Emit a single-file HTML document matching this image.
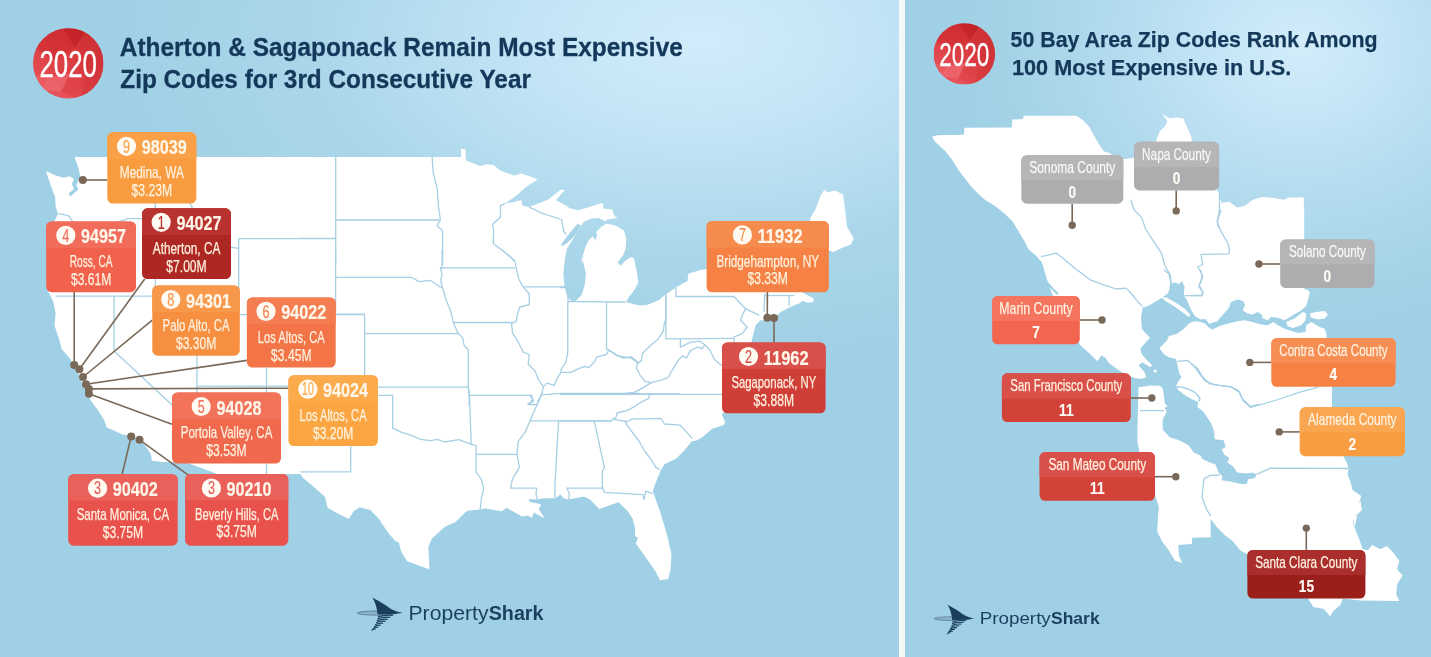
<!DOCTYPE html>
<html lang="en"><head><meta charset="utf-8"><title>Most Expensive Zip Codes 2020</title>
<style>
html,body{margin:0;padding:0;background:#9fd0e5;}
body{width:1431px;height:657px;overflow:hidden;position:relative;}
svg{display:block;position:absolute;left:0;top:0;}
text{font-family:"Liberation Sans", Arial, sans-serif;}
.b{font-weight:bold;}
</style></head><body>
<svg width="1431" height="657" viewBox="0 0 1431 657">
<defs>
<radialGradient id="gl" gradientUnits="userSpaceOnUse" cx="0" cy="0" r="1" gradientTransform="translate(700 40) scale(600 330)">
<stop offset="0" stop-color="#d2ecfb"/><stop offset="0.3" stop-color="#c2e4f5"/><stop offset="0.65" stop-color="#aad6ea"/><stop offset="1" stop-color="#9fd0e5"/>
</radialGradient>
<radialGradient id="gr" gradientUnits="userSpaceOnUse" cx="0" cy="0" r="1" gradientTransform="translate(1300 48) scale(350 290)">
<stop offset="0" stop-color="#d3ecfa"/><stop offset="0.25" stop-color="#c4e5f6"/><stop offset="0.5" stop-color="#b4dcef"/><stop offset="0.78" stop-color="#a6d4e8"/><stop offset="1" stop-color="#9fd0e5"/>
</radialGradient>
<clipPath id="cl"><rect x="0" y="0" width="899" height="657"/></clipPath>
<clipPath id="cr"><rect x="905" y="0" width="526" height="657"/></clipPath>
<clipPath id="b1"><circle cx="68.3" cy="63.3" r="35.2"/></clipPath>
<clipPath id="b2"><circle cx="964.3" cy="53.9" r="30.7"/></clipPath>
<mask id="bm" maskUnits="userSpaceOnUse" x="905" y="0" width="526" height="657">
<rect x="905" y="0" width="526" height="657" fill="#000"/>
<path d="M931.9 136.8 L937.4 135.2 L963.8 134.8 L964.4 127.8 L1011.7 127.4 L1012.3 119.6 L1023.1 119.0 L1023.5 115.7 L1076.3 115.7 L1082.2 119.6 L1089.0 126.4 L1093.9 135.2 L1098.8 144.0 L1103.7 151.3 L1110.6 153.2 L1111.5 155.2 L1123.3 159.3 L1134.0 157.7 L1155.9 141.5 L1159.8 131.3 L1164.7 126.4 L1167.6 121.5 L1161.8 113.3 L1169.6 118.6 L1176.4 117.6 L1183.3 118.6 L1187.2 127.4 L1191.1 136.2 L1192.1 141.5 L1219.1 193.9 L1221.4 202.7 L1229.3 201.7 L1237.1 207.6 L1244.9 205.7 L1252.7 199.8 L1262.5 196.9 L1272.3 197.8 L1284.1 199.8 L1288.0 197.8 L1303.6 197.2 L1304.2 210.0 L1304.2 288.8 L1308.4 290.5 L1326.5 300.0 L1326.5 338.0 L1331.9 387.0 L1331.9 407.0 L1340.0 440.0 L1343.7 456.7 L1346.7 462.6 L1348.6 468.5 L1347.6 474.4 L1350.6 482.2 L1352.5 490.0 L1361.3 495.9 L1359.4 501.7 L1362.3 509.6 L1356.5 515.4 L1352.5 521.3 L1354.5 528.0 L1360.6 500.0 L1361.6 510.5 L1356.4 514.7 L1353.2 521.0 L1355.3 529.4 L1359.5 539.8 L1362.7 549.3 L1367.9 550.3 L1372.1 545.1 L1380.5 549.3 L1386.8 546.1 L1393.1 552.4 L1399.3 560.8 L1397.2 569.2 L1402.5 575.5 L1397.2 583.9 L1396.2 594.3 L1399.3 601.0 L1360.6 600.6 L1342.7 598.5 L1340.6 604.8 L1333.3 611.1 L1330.2 616.4 L1323.9 609.0 L1313.4 606.9 L1308.1 598.5 L1247.4 554.5 L1240.0 550.3 L1233.7 541.9 L1225.3 535.6 L1217.0 527.3 L1210.7 518.9 L1210.7 537.3 L1192.2 537.7 L1191.8 544.0 L1178.2 545.1 L1179.2 556.6 L1182.4 562.9 L1175.0 560.8 L1168.7 550.3 L1162.4 541.9 L1157.2 531.4 L1158.3 512.6 L1160.4 500.0 L1160.5 523.9 L1159.9 512.2 L1157.0 500.8 L1139.4 452.1 L1137.4 441.7 L1137.4 430.0 L1138.5 386.7 L1144.4 379.9 L1142.4 378.9 L1134.6 377.9 L1124.8 374.0 L1117.0 369.1 L1109.1 363.3 L1105.2 357.4 L1101.3 355.4 L1097.4 361.3 L1089.6 353.5 L1081.7 346.6 L1079.8 344.3 L1052.7 295.5 L1050.8 290.0 L1047.8 282.2 L1044.9 272.4 L1042.0 262.6 L1036.1 255.8 L1028.3 248.9 L1024.4 241.1 L1018.5 231.3 L1012.6 221.5 L1004.8 213.7 L995.0 205.9 L985.2 200.0 L978.5 193.9 L970.7 186.1 L964.8 178.3 L958.9 170.4 L952.1 159.7 L945.2 150.9 L935.4 142.1Z" fill="#fff"/>
<path d="M1136.5 381.3 L1146.3 377.0 L1144.4 372.1 L1138.5 365.2 L1142.4 362.3 L1150.2 367.2 L1152.2 365.2 L1146.3 359.4 L1141.4 353.5 L1140.4 348.6 L1146.3 341.7 L1150.2 337.8 L1144.4 332.0 L1141.9 328.7 L1141.0 317.0 L1142.7 307.7 L1148.6 305.7 L1160.3 298.8 L1167.9 293.5 L1171.2 283.4 L1175.4 282.6 L1178.8 284.3 L1182.1 280.9 L1184.6 286.8 L1183.8 295.2 L1187.1 300.2 L1190.5 308.6 L1194.7 316.1 L1200.6 319.5 L1205.6 319.0 L1209.0 323.7 L1217.3 321.2 L1224.0 313.6 L1229.1 307.7 L1230.8 301.9 L1237.5 299.4 L1243.3 301.0 L1245.0 305.2 L1242.5 310.3 L1247.5 313.6 L1252.6 314.4 L1257.6 311.9 L1261.8 314.4 L1262.6 318.6 L1267.7 320.3 L1271.0 317.0 L1277.7 317.8 L1284.4 320.3 L1292.8 315.3 L1301.2 310.3 L1306.2 306.1 L1309.6 293.5 L1308.7 288.4 L1345.0 285.0 L1345.0 334.0 L1326.4 333.7 L1324.7 328.7 L1319.6 327.0 L1311.3 322.0 L1306.2 325.3 L1305.4 332.1 L1297.8 332.9 L1284.4 328.7 L1277.7 325.3 L1273.5 322.0 L1267.7 325.3 L1260.9 324.5 L1252.6 322.0 L1244.2 320.3 L1237.5 321.2 L1227.4 323.7 L1219.0 326.2 L1212.3 329.5 L1208.1 327.0 L1205.6 323.7 L1200.6 322.0 L1193.9 321.2 L1188.8 323.7 L1183.8 328.7 L1177.1 333.7 L1168.7 336.2 L1167.0 340.4 L1162.0 345.5 L1159.5 348.0 L1163.7 353.9 L1168.7 357.2 L1176.2 358.9 L1177.9 367.3 L1179.6 374.0 L1181.5 377.0 L1177.6 382.8 L1175.7 386.7 L1183.5 394.2 L1192.3 399.5 L1198.2 402.0 L1197.6 407.3 L1203.1 411.2 L1207.4 417.7 L1211.3 423.5 L1214.0 431.4 L1214.8 439.2 L1223.6 440.2 L1225.6 447.0 L1221.8 449.4 L1224.4 454.8 L1229.3 457.7 L1227.3 462.6 L1233.2 466.5 L1237.1 472.4 L1246.9 473.4 L1252.7 472.4 L1256.7 474.4 L1254.7 478.3 L1247.9 479.2 L1246.9 484.1 L1241.0 484.1 L1229.3 481.2 L1221.4 480.2 L1222.4 476.3 L1218.5 472.4 L1215.6 464.6 L1209.7 462.6 L1201.9 458.7 L1200.9 455.8 L1194.0 452.8 L1188.2 445.0 L1178.4 440.1 L1169.6 437.2 L1162.7 429.4 L1162.7 419.6 L1166.7 411.7 L1164.7 407.8 L1167.8 406.3 L1164.9 403.4 L1163.9 396.5 L1162.9 388.7 L1160.0 385.8 L1150.2 385.4 L1142.4 386.7 L1134.6 387.7Z" fill="#000"/>

<path d="M1286.1 322.0 L1294.5 318.6 L1302.9 311.9 L1306.2 313.6 L1305.4 320.3 L1301.2 325.3 L1292.8 327.9 L1287.8 326.2Z" fill="#fff"/>
<path d="M1309.6 313.6 L1316.3 311.9 L1324.7 311.1 L1328.0 314.4 L1324.7 318.6 L1318.0 319.5 L1311.3 317.8Z" fill="#fff"/>
<path d="M1161.2 296.8 L1167.0 297.7 L1177.1 303.5 L1185.5 309.4 L1190.5 315.3 L1188.8 317.0 L1182.1 311.9 L1173.7 306.1 L1165.3 301.0Z" fill="#fff"/>
<path d="M1178.0 388.3 L1187.4 389.3 L1194.8 393.0 L1197.6 398.5 L1195.2 399.5 L1190.3 396.5 L1183.5 393.0 L1178.0 390.3Z" fill="#fff"/>
<circle cx="1155.1" cy="371.1" r="1.6" fill="#fff"/>
<path d="M1042.4 276.7 L1046.9 282.2 L1052.7 289.0 L1058.0 294.3" fill="none" stroke="#000" stroke-width="2"/>
<path d="M1175.7 386.7 L1181.5 387.1 L1187.4 388.7 L1195.2 392.6 L1200.1 398.5 L1198.8 401.4" fill="none" stroke="#000" stroke-width="1.4" stroke-linejoin="round"/>
</mask></defs>
<rect x="0" y="0" width="899" height="657" fill="#9fd0e5"/>
<rect x="0" y="0" width="899" height="657" fill="url(#gl)"/>
<rect x="905" y="0" width="526" height="657" fill="#9fd0e5"/>
<rect x="905" y="0" width="526" height="657" fill="url(#gr)"/>
<rect x="899" y="0" width="6" height="657" fill="#f3f8f7"/>
<g clip-path="url(#cl)">
<path d="M74.4 157.0 L461.0 157.0 L461.0 149.0 L465.3 149.0 L466.0 160.4 L479.9 165.9 L486.2 164.2 L493.7 164.9 L500.0 170.4 L513.8 175.5 L521.4 173.5 L537.7 179.2 L526.4 186.8 L516.4 195.6 L505.0 203.6 L513.8 201.9 L521.4 200.1 L522.6 205.7 L528.9 206.9 L540.0 202.8 L548.4 199.4 L556.8 192.7 L561.0 189.4 L564.8 189.9 L560.1 195.2 L555.9 200.3 L563.5 203.9 L570.2 208.6 L578.6 210.3 L587.0 207.8 L597.0 204.4 L602.9 202.8 L603.4 208.6 L612.1 209.5 L614.6 216.2 L618.0 217.9 L607.1 219.5 L605.4 221.2 L598.7 217.9 L590.3 218.7 L583.6 222.1 L581.1 225.7 L576.1 233.8 L571.0 242.2 L566.8 248.9 L565.2 257.3 L564.3 264.0 L564.2 264.3 L563.3 273.8 L564.4 285.6 L566.8 295.1 L570.4 300.6 L575.6 301.1 L581.6 295.1 L584.6 285.6 L585.8 273.8 L583.9 264.3 L581.1 257.1 L581.9 264.0 L582.8 255.6 L585.3 247.2 L588.6 240.5 L592.8 236.3 L595.3 240.5 L597.0 235.5 L596.2 232.1 L598.7 229.6 L602.1 226.2 L605.4 224.2 L607.1 223.7 L615.5 225.4 L623.9 230.4 L626.4 238.8 L625.5 248.9 L623.0 255.6 L618.8 260.6 L618.0 263.1 L620.5 265.7 L625.5 260.6 L630.6 257.3 L633.9 258.1 L636.4 270.0 L636.0 266.1 L638.4 282.8 L633.7 291.1 L628.9 297.0 L626.0 302.0 L633.0 304.0 L640.0 305.5 L647.0 305.0 L653.0 302.5 L659.0 300.0 L665.6 294.5 L676.6 287.0 L687.5 281.1 L688.4 273.8 L700.3 270.1 L706.7 269.2 L720.0 262.0 L745.0 240.0 L790.0 238.0 L800.0 225.0 L809.8 220.9 L810.8 217.0 L815.7 209.1 L820.6 195.4 L824.5 189.6 L827.4 192.5 L835.2 190.5 L843.1 194.5 L845.0 209.1 L847.0 226.7 L853.8 238.5 L850.9 244.4 L841.1 248.3 L833.3 252.2 L829.0 250.2 L822.0 262.0 L812.0 275.0 L806.0 285.0 L802.6 292.6 L807.6 295.2 L813.5 298.5 L813.5 301.9 L807.6 302.7 L802.6 301.0 L799.2 303.5 L792.5 306.1 L787.5 308.6 L780.8 311.9 L777.4 315.3 L774.0 318.6 L767.3 320.3 L760.6 320.3 L755.6 325.3 L753.9 332.1 L752.2 338.8 L751.4 342.5 L748.0 360.0 L742.0 380.0 L738.0 400.0 L721.6 414.5 L725.1 421.6 L723.9 425.1 L712.1 428.7 L702.6 437.0 L696.6 440.6 L691.9 441.3 L683.6 451.3 L676.4 458.4 L664.5 464.3 L661.0 469.8 L655.0 484.5 L652.7 491.7 L654.0 494.6 L660.0 511.3 L667.1 535.0 L671.4 554.0 L670.7 568.3 L668.3 579.0 L660.0 580.2 L655.2 570.7 L643.3 554.0 L635.7 543.4 L638.1 537.4 L635.0 536.2 L635.0 527.9 L632.6 518.4 L626.7 510.1 L618.4 502.3 L599.4 508.9 L589.9 499.4 L583.9 496.5 L568.5 499.4 L563.7 498.2 L560.2 494.6 L555.4 498.2 L543.6 498.2 L536.4 499.4 L529.3 498.9 L529.3 501.8 L541.2 504.2 L538.8 508.9 L544.7 518.4 L534.0 512.5 L531.7 517.9 L528.1 515.6 L522.2 516.5 L515.0 512.5 L506.7 507.7 L502.0 511.3 L485.3 508.4 L479.4 509.4 L467.5 510.8 L465.1 512.5 L455.6 522.0 L444.9 526.7 L431.9 538.6 L428.3 546.9 L429.5 569.5 L428.5 569.0 L419.0 565.5 L407.1 561.2 L401.2 551.7 L398.8 542.6 L395.2 541.0 L388.1 532.7 L378.6 518.4 L370.3 510.1 L359.6 507.2 L353.6 511.3 L348.9 519.1 L335.8 512.5 L327.5 507.7 L325.1 497.0 L314.4 487.5 L302.6 477.5 L300.2 474.0 L278.3 474.2 L278.3 481.7 L238.4 481.7 L186.3 462.5 L162.6 461.9 L151.9 460.7 L150.7 453.6 L145.9 446.4 L138.8 439.3 L131.7 435.7 L122.2 434.5 L115.0 431.0 L106.7 427.4 L104.3 420.3 L98.4 410.8 L91.3 401.3 L87.7 394.2 L81.8 382.3 L78.2 372.8 L73.5 365.6 L69.9 358.5 L61.6 349.0 L59.2 339.5 L54.5 325.4 L55.6 313.6 L53.3 301.7 L48.5 292.2 L50.9 237.5 L54.5 220.9 L58.0 213.8 L55.6 206.6 L55.2 197.0 L51.8 188.6 L48.4 178.6 L45.9 171.0 L55.2 175.2 L63.5 177.7 L69.4 176.2 L73.9 178.9 L71.9 183.9 L73.9 189.0 L68.9 193.3 L69.9 196.7 L78.3 189.6 L76.3 184.9 L80.3 177.2 L78.6 168.5 L74.4 156.8Z" fill="#fff"/>
<path d="M577.5 223.8 L581.1 225.6 L574.7 235.7 L567.4 243.0 L561.9 246.3 L561.0 244.5 L567.4 235.7 L572.9 229.3Z" fill="#a6d3e7"/>
<g fill="none" stroke="#a6cfe3" stroke-width="1.3" stroke-linejoin="round">
<path d="M335.7 156.9 L335.7 265.0"/>
<path d="M335.7 220.0 L439.6 220.0"/>
<path d="M432.1 156.9 L433.3 173.0 L437.1 188.1 L438.4 205.7 L440.4 220.0 L437.1 225.8 L442.6 230.8 L442.6 265.0"/>
<path d="M300.0 238.4 L335.7 238.4"/>
<path d="M505.0 203.6 L500.5 205.7 L500.5 217.0 L492.5 224.5 L493.7 230.8 L493.2 243.4 L506.3 253.5 L515.1 261.0"/>
<path d="M528.9 206.9 L541.5 213.2 L561.6 219.5 L563.6 230.8 L566.2 234.6"/>
<path d="M335.6 250.0 L335.6 314.2"/>
<path d="M335.6 277.3 L411.7 277.3 L418.8 281.6 L430.7 280.4 L437.8 285.6 L442.6 288.0"/>
<path d="M440.2 267.8 L515.0 267.8"/>
<path d="M442.1 250.0 L442.1 267.8 L440.2 267.8 L442.1 273.8 L440.7 280.9 L442.6 288.0 L446.1 299.9 L450.9 311.8 L453.3 322.5 L458.0 333.2 L462.8 337.9 L463.9 345.0 L468.2 349.8 L468.2 387.1 L469.2 395.4 L469.2 405.9"/>
<path d="M364.6 333.6 L458.0 333.6"/>
<path d="M335.6 314.2 L364.6 314.2 L364.6 387.1"/>
<path d="M453.3 322.5 L511.5 322.5"/>
<path d="M338.0 387.1 L468.2 387.1"/>
<path d="M469.2 395.4 L531.7 395.4 L532.8 399.7 L528.1 404.4"/>
<path d="M502.0 250.0 L509.1 255.9 L515.0 261.9 L516.2 267.8 L518.6 278.5 L522.2 285.6 L529.3 294.0 L529.3 304.6 L519.8 307.0 L517.4 314.2 L516.2 321.3 L511.5 323.7 L512.6 333.2 L518.6 342.7 L523.3 352.2 L529.3 354.5 L528.1 364.0 L535.2 371.2 L538.8 380.7 L543.5 386.6 L541.2 394.9 L537.6 402.1"/>
<path d="M523.3 286.8 L564.9 286.8"/>
<path d="M567.8 301.1 L567.8 352.2 L566.1 361.7 L561.4 368.8 L560.9 372.4"/>
<path d="M567.8 301.6 L625.5 302.0"/>
<path d="M606.5 301.8 L606.5 349.8"/>
<path d="M543.5 386.6 L547.1 383.1 L554.2 385.4 L556.6 379.5 L560.9 372.4 L570.9 372.4 L578.0 368.8 L585.1 366.4 L588.7 367.6 L594.6 361.7 L597.0 356.9 L606.5 354.5 L608.9 349.8 L616.0 354.5 L623.1 358.1 L631.4 356.9 L637.4 361.7"/>
<path d="M541.2 394.9 L561.4 393.3 L640.0 393.3"/>
<path d="M378.0 395.4 L392.7 395.4 L392.7 428.2 L401.8 432.3 L411.3 435.3 L420.8 439.4 L430.3 440.6 L437.4 439.4 L444.5 442.0 L458.8 439.6 L470.7 444.1 L476.1 445.6 L476.1 472.2 L481.4 479.3 L483.7 488.8 L481.4 498.3 L480.2 509.0"/>
<path d="M468.3 387.1 L469.5 395.4 L471.2 444.1"/>
<path d="M476.1 454.3 L517.0 454.3"/>
<path d="M542.0 393.8 L537.2 404.5 L532.5 415.1 L530.1 421.1 L525.3 431.8 L518.2 441.3 L517.0 454.3 L519.4 467.4 L512.3 479.3 L510.6 488.1 L536.7 488.1 L536.0 493.6 L537.2 499.5"/>
<path d="M530.1 395.4 L533.6 400.9 L527.7 404.5 L537.2 404.5"/>
<path d="M530.1 420.8 L612.0 420.8"/>
<path d="M561.0 393.8 L680.0 393.8"/>
<path d="M558.6 420.8 L555.0 484.0 L555.0 498.3"/>
<path d="M594.2 420.8 L604.4 467.4 L602.1 472.2 L602.5 487.6 L604.4 492.4 L642.9 494.7 L644.1 499.5 L645.8 491.2 L652.4 493.6"/>
<path d="M602.5 488.1 L566.9 488.1 L569.3 493.6 L568.8 499.5"/>
<path d="M560.0 394.3 L726.3 394.3"/>
<path d="M675.9 287.6 L675.9 296.5 L733.8 296.5 L740.5 303.5 L745.5 308.6 L742.2 315.3 L740.5 320.3 L747.2 327.0 L742.2 333.7 L733.8 337.1 L733.8 338.8"/>
<path d="M665.9 293.5 L665.9 338.8 L733.8 338.4"/>
<path d="M745.5 308.6 L759.0 315.3"/>
<path d="M764.8 293.5 L764.0 311.9"/>
<path d="M789.1 295.2 L789.1 306.1"/>
<path d="M764.8 295.5 L794.2 295.5"/>
<path d="M733.8 338.8 L734.6 348.8 L737.1 357.2"/>
<path d="M560.0 287.5 L567.1 287.5 L568.3 301.8"/>
<path d="M155.3 157.0 L155.3 210.3 L157.0 218.7 L162.8 228.7 L159.3 238.6 L153.1 250.3 L155.4 261.9 L155.4 296.1"/>
<path d="M58.5 213.7 L68.2 215.7 L75.2 224.7 L83.5 227.5 L93.2 224.7 L107.2 224.7 L123.9 220.1 L128.0 218.7 L157.0 218.7"/>
<path d="M55.7 296.1 L238.7 296.1"/>
<path d="M114.1 296.1 L114.1 350.9 L188.8 420.6 L189.7 425.7 L192.7 432.4 L194.8 433.3 L190.6 439.1 L187.9 447.5 L190.6 454.1 L187.6 458.8"/>
<path d="M196.9 296.1 L196.9 401.8 L187.2 401.8 L188.8 420.6"/>
<path d="M196.9 386.2 L363.9 386.2"/>
<path d="M169.1 157.0 L169.1 178.0 L174.0 190.4 L186.5 198.6 L192.0 206.7 L193.4 220.7 L190.6 227.7 L199.0 226.7 L204.6 236.6 L211.5 246.4 L221.3 248.4 L232.4 247.4 L238.7 248.4"/>
<path d="M238.7 238.6 L238.7 314.6 L266.5 314.6"/>
<path d="M238.7 238.6 L336.0 238.6"/>
<path d="M266.5 314.6 L266.5 481.5"/>
<path d="M266.5 314.6 L363.9 314.6"/>
<path d="M350.7 386.5 L350.7 471.8 L300.4 471.8"/>
<path d="M665.8 296.1 L665.8 321.7 L664.6 321.7 L663.3 331.4 L658.5 338.7 L649.9 346.0 L642.6 353.3 L641.4 360.6 L637.8 363.1 L631.7 358.2 L624.4 357.0 L617.1 355.8 L609.7 350.9 L606.1 348.5"/>
<path d="M637.8 363.1 L636.5 368.0 L640.2 375.3 L645.1 381.4 L651.2 382.6 L660.9 380.1 L668.2 377.7 L670.6 372.8 L678.0 360.6 L682.8 355.8 L686.5 358.2 L690.1 350.9 L697.4 347.2 L702.3 348.5 L704.8 344.8"/>
<path d="M680.4 338.7 L680.4 347.2 L690.1 342.4 L699.9 341.2 L704.8 344.8 L709.6 349.7 L714.5 359.4 L721.8 365.5"/>
<path d="M651.2 382.6 L643.8 387.4 L634.1 392.3 L625.6 393.5"/>
<path d="M649.9 394.0 L648.7 398.4 L639.0 403.3 L634.1 406.9 L626.8 410.6 L617.1 413.0 L615.8 417.9 L612.2 419.1 L626.8 421.5 L625.6 422.8 L631.7 419.1 L660.9 418.4 L664.6 424.0 L680.4 425.2 L692.6 438.6"/>
<path d="M559.8 420.8 L612.2 420.8"/>
<path d="M625.6 422.8 L631.7 431.3 L639.0 441.0 L643.8 449.8"/>
<path d="M643.8 449.8 L650.0 458.0 L656.0 467.4 L660.0 469.7"/>
</g></g>
<g clip-path="url(#cr)">
<rect x="905" y="0" width="526" height="657" fill="#fff" mask="url(#bm)"/>
<g fill="none" stroke="#a6cfe3" stroke-width="1.3" stroke-linejoin="round">
<path d="M1131.0 200.0 L1133.9 209.8 L1141.8 217.6 L1145.7 229.4 L1153.5 241.1 L1161.3 252.8 L1165.2 266.5 L1170.1 274.4 L1171.1 282.2 L1170.1 288.1"/>
<path d="M1041.0 256.7 L1056.6 253.2 L1063.5 258.7 L1075.2 268.5 L1090.9 280.2 L1104.6 285.1 L1116.3 289.0 L1126.1 288.1 L1130.0 292.0 L1137.8 301.7 L1142.7 306.6"/>
<path d="M1219.5 193.9 L1219.5 209.6 L1217.5 221.3 L1218.5 228.0"/>
<path d="M1221.2 210.0 L1217.0 221.7 L1221.2 231.8 L1227.9 243.5 L1229.6 250.3 L1228.7 253.9 L1201.1 254.4 L1201.9 260.3 L1202.7 264.5 L1197.7 267.0 L1201.1 272.1 L1202.7 277.1 L1199.4 285.5 L1202.7 292.2 L1201.9 295.5 L1191.0 295.5"/>
<path d="M1163.7 270.0 L1168.7 273.4 L1170.4 280.1 L1171.2 283.4"/>
<path d="M1184.6 295.7 L1202.2 295.7 L1203.1 291.8 L1198.9 286.8 L1202.2 276.7 L1200.6 270.0"/>
<path d="M1177.6 361.3 L1187.4 360.3 L1193.3 365.2 L1199.1 373.0 L1205.0 380.9 L1214.8 384.8 L1230.5 386.7 L1238.3 390.7 L1242.2 398.5 L1250.0 406.3 L1260.0 404.4"/>
<path d="M1191.0 363.6 L1197.7 368.6 L1202.7 377.0 L1209.4 383.7 L1219.5 385.4 L1231.3 387.1 L1239.6 392.1 L1243.0 400.5 L1250.5 407.5 L1274.9 400.5 L1300.0 392.1 L1318.5 387.1"/>
<path d="M1140.0 410.6 L1164.0 410.6"/>
<path d="M1219.6 475.0 L1209.8 475.4 L1203.9 478.9 L1202.0 496.5 L1205.9 508.3 L1210.8 516.1"/>
<path d="M1256.7 474.4 L1270.4 468.1 L1348.6 468.5"/>
</g></g>
<g stroke="#7a6958" stroke-width="1.6" fill="#7a6958">
<line x1="82.8" y1="180" x2="107.3" y2="180"/><circle cx="82.8" cy="180" r="4" stroke="none"/>
<line x1="74.2" y1="365" x2="74.2" y2="292"/><circle cx="74.2" cy="365" r="4" stroke="none"/>
<line x1="79.4" y1="369.2" x2="144.7" y2="279"/><circle cx="79.4" cy="369.2" r="4" stroke="none"/>
<line x1="83" y1="377" x2="152.3" y2="320.2"/><circle cx="83" cy="377" r="4" stroke="none"/>
<line x1="86" y1="384.2" x2="246.9" y2="360.4"/><circle cx="86" cy="384.2" r="4" stroke="none"/>
<line x1="88.9" y1="388.9" x2="288.5" y2="388.2"/><circle cx="88.9" cy="388.9" r="4" stroke="none"/>
<line x1="88.9" y1="393.7" x2="172" y2="424.3"/><circle cx="88.9" cy="393.7" r="4" stroke="none"/>
<line x1="131.2" y1="436.4" x2="122.2" y2="474"/><circle cx="131.2" cy="436.4" r="4" stroke="none"/>
<line x1="139.5" y1="439.8" x2="188.7" y2="475.4"/><circle cx="139.5" cy="439.8" r="4" stroke="none"/>
<line x1="767.3" y1="317.8" x2="767.4" y2="292"/><circle cx="767.3" cy="317.8" r="4" stroke="none"/>
<line x1="774" y1="318" x2="774" y2="342.5"/><circle cx="774" cy="318" r="4" stroke="none"/>
<line x1="1072.2" y1="225.3" x2="1072.2" y2="203.7"/><circle cx="1072.2" cy="225.3" r="3.7" stroke="none"/>
<line x1="1176.2" y1="210.9" x2="1176.2" y2="190.4"/><circle cx="1176.2" cy="210.9" r="3.7" stroke="none"/>
<line x1="1258.9" y1="264" x2="1280.2" y2="264"/><circle cx="1258.9" cy="264" r="3.7" stroke="none"/>
<line x1="1102" y1="320" x2="1079.8" y2="320"/><circle cx="1102" cy="320" r="3.7" stroke="none"/>
<line x1="1151.8" y1="398" x2="1130.8" y2="398"/><circle cx="1151.8" cy="398" r="3.7" stroke="none"/>
<line x1="1175.8" y1="476.7" x2="1155" y2="476.7"/><circle cx="1175.8" cy="476.7" r="3.7" stroke="none"/>
<line x1="1249.8" y1="362.4" x2="1271.3" y2="362.4"/><circle cx="1249.8" cy="362.4" r="3.7" stroke="none"/>
<line x1="1279.2" y1="431.9" x2="1299.7" y2="431.9"/><circle cx="1279.2" cy="431.9" r="3.7" stroke="none"/>
<line x1="1306.3" y1="528.1" x2="1306.3" y2="549.9"/><circle cx="1306.3" cy="528.1" r="3.7" stroke="none"/>
</g>
<g>
<rect x="107.3" y="132.3" width="89.0" height="71.2" rx="5.5" ry="5.5" fill="#f99c3f"/><path d="M107.3 158.9V137.8a5.5 5.5 0 0 1 5.5 -5.5H190.8a5.5 5.5 0 0 1 5.5 5.5V158.9Z" fill="#faa046"/>
<circle cx="126.5" cy="146.3" r="9.6" fill="#fffaf2"/>
<text transform="translate(126.5 152.5) scale(0.72 1)" font-size="17.5" text-anchor="middle" fill="#faa046" stroke="#faa046" stroke-width="0.2">9</text>
<text class="b" x="141.7" y="154.3" font-size="20.2" textLength="45.0" lengthAdjust="spacingAndGlyphs" fill="#fff6ea" stroke="#fff6ea" stroke-width="0.2">98039</text>
<text x="119.8" y="177.9" font-size="16.8" textLength="64.0" lengthAdjust="spacingAndGlyphs" fill="#fff2e0" stroke="#fff2e0" stroke-width="0.25">Medina, WA</text>
<text x="131.6" y="195.7" font-size="16.8" textLength="40.4" lengthAdjust="spacingAndGlyphs" fill="#fff2e0" stroke="#fff2e0" stroke-width="0.25">$3.23M</text>
</g>
<g>
<rect x="142.0" y="208.3" width="89.0" height="70.8" rx="5.5" ry="5.5" fill="#ad2823"/><path d="M142.0 234.9V213.8a5.5 5.5 0 0 1 5.5 -5.5H225.5a5.5 5.5 0 0 1 5.5 5.5V234.9Z" fill="#b8322f"/>
<circle cx="161.2" cy="222.3" r="9.6" fill="#fffaf2"/>
<text transform="translate(161.2 228.5) scale(0.72 1)" font-size="17.5" text-anchor="middle" fill="#b8322f" stroke="#b8322f" stroke-width="0.2">1</text>
<text class="b" x="176.4" y="230.3" font-size="20.2" textLength="45.0" lengthAdjust="spacingAndGlyphs" fill="#fff6ea" stroke="#fff6ea" stroke-width="0.2">94027</text>
<text x="152.8" y="253.9" font-size="16.8" textLength="67.5" lengthAdjust="spacingAndGlyphs" fill="#fff2e0" stroke="#fff2e0" stroke-width="0.25">Atherton, CA</text>
<text x="166.3" y="271.7" font-size="16.8" textLength="40.4" lengthAdjust="spacingAndGlyphs" fill="#fff2e0" stroke="#fff2e0" stroke-width="0.25">$7.00M</text>
</g>
<g>
<rect x="46.2" y="221.4" width="89.8" height="70.8" rx="5.5" ry="5.5" fill="#f2614c"/><path d="M46.2 248.0V226.9a5.5 5.5 0 0 1 5.5 -5.5H130.5a5.5 5.5 0 0 1 5.5 5.5V248.0Z" fill="#f26c5b"/>
<circle cx="65.8" cy="235.4" r="9.6" fill="#fffaf2"/>
<text transform="translate(65.8 241.6) scale(0.72 1)" font-size="17.5" text-anchor="middle" fill="#f26c5b" stroke="#f26c5b" stroke-width="0.2">4</text>
<text class="b" x="81.0" y="243.4" font-size="20.2" textLength="45.0" lengthAdjust="spacingAndGlyphs" fill="#fff6ea" stroke="#fff6ea" stroke-width="0.2">94957</text>
<text x="69.7" y="267.0" font-size="16.8" textLength="42.8" lengthAdjust="spacingAndGlyphs" fill="#fff2e0" stroke="#fff2e0" stroke-width="0.25">Ross, CA</text>
<text x="70.9" y="284.8" font-size="16.8" textLength="40.4" lengthAdjust="spacingAndGlyphs" fill="#fff2e0" stroke="#fff2e0" stroke-width="0.25">$3.61M</text>
</g>
<g>
<rect x="152.3" y="285.5" width="87.5" height="70.2" rx="5.5" ry="5.5" fill="#f78f40"/><path d="M152.3 312.1V291.0a5.5 5.5 0 0 1 5.5 -5.5H234.3a5.5 5.5 0 0 1 5.5 5.5V312.1Z" fill="#f8984b"/>
<circle cx="170.8" cy="299.5" r="9.6" fill="#fffaf2"/>
<text transform="translate(170.8 305.7) scale(0.72 1)" font-size="17.5" text-anchor="middle" fill="#f8984b" stroke="#f8984b" stroke-width="0.2">8</text>
<text class="b" x="185.9" y="307.5" font-size="20.2" textLength="45.0" lengthAdjust="spacingAndGlyphs" fill="#fff6ea" stroke="#fff6ea" stroke-width="0.2">94301</text>
<text x="162.6" y="331.1" font-size="16.8" textLength="67.0" lengthAdjust="spacingAndGlyphs" fill="#fff2e0" stroke="#fff2e0" stroke-width="0.25">Palo Alto, CA</text>
<text x="175.9" y="348.9" font-size="16.8" textLength="40.4" lengthAdjust="spacingAndGlyphs" fill="#fff2e0" stroke="#fff2e0" stroke-width="0.25">$3.30M</text>
</g>
<g>
<rect x="246.9" y="297.4" width="88.8" height="70.1" rx="5.5" ry="5.5" fill="#f37446"/><path d="M246.9 324.0V302.9a5.5 5.5 0 0 1 5.5 -5.5H330.2a5.5 5.5 0 0 1 5.5 5.5V324.0Z" fill="#f47e52"/>
<circle cx="266.0" cy="311.4" r="9.6" fill="#fffaf2"/>
<text transform="translate(266.0 317.6) scale(0.72 1)" font-size="17.5" text-anchor="middle" fill="#f47e52" stroke="#f47e52" stroke-width="0.2">6</text>
<text class="b" x="281.2" y="319.4" font-size="20.2" textLength="45.0" lengthAdjust="spacingAndGlyphs" fill="#fff6ea" stroke="#fff6ea" stroke-width="0.2">94022</text>
<text x="257.8" y="343.0" font-size="16.8" textLength="67.0" lengthAdjust="spacingAndGlyphs" fill="#fff2e0" stroke="#fff2e0" stroke-width="0.25">Los Altos, CA</text>
<text x="271.1" y="360.8" font-size="16.8" textLength="40.4" lengthAdjust="spacingAndGlyphs" fill="#fff2e0" stroke="#fff2e0" stroke-width="0.25">$3.45M</text>
</g>
<g>
<rect x="288.4" y="375.2" width="89.5" height="70.8" rx="5.5" ry="5.5" fill="#fba642"/><path d="M288.4 401.8V380.7a5.5 5.5 0 0 1 5.5 -5.5H372.4a5.5 5.5 0 0 1 5.5 5.5V401.8Z" fill="#fbab4b"/>
<circle cx="307.9" cy="389.2" r="9.6" fill="#fffaf2"/>
<text transform="translate(307.9 395.4) scale(0.6 1)" font-size="17.5" text-anchor="middle" fill="#fbab4b" stroke="#fbab4b" stroke-width="0.2">10</text>
<text class="b" x="323.1" y="397.2" font-size="20.2" textLength="45.0" lengthAdjust="spacingAndGlyphs" fill="#fff6ea" stroke="#fff6ea" stroke-width="0.2">94024</text>
<text x="299.6" y="420.8" font-size="16.8" textLength="67.0" lengthAdjust="spacingAndGlyphs" fill="#fff2e0" stroke="#fff2e0" stroke-width="0.25">Los Altos, CA</text>
<text x="312.9" y="438.6" font-size="16.8" textLength="40.4" lengthAdjust="spacingAndGlyphs" fill="#fff2e0" stroke="#fff2e0" stroke-width="0.25">$3.20M</text>
</g>
<g>
<rect x="172.0" y="392.5" width="109.0" height="71.1" rx="5.5" ry="5.5" fill="#f1694c"/><path d="M172.0 419.1V398.0a5.5 5.5 0 0 1 5.5 -5.5H275.5a5.5 5.5 0 0 1 5.5 5.5V419.1Z" fill="#f2735a"/>
<circle cx="201.2" cy="406.5" r="9.6" fill="#fffaf2"/>
<text transform="translate(201.2 412.7) scale(0.72 1)" font-size="17.5" text-anchor="middle" fill="#f2735a" stroke="#f2735a" stroke-width="0.2">5</text>
<text class="b" x="216.4" y="414.5" font-size="20.2" textLength="45.0" lengthAdjust="spacingAndGlyphs" fill="#fff6ea" stroke="#fff6ea" stroke-width="0.2">94028</text>
<text x="180.8" y="438.1" font-size="16.8" textLength="91.5" lengthAdjust="spacingAndGlyphs" fill="#fff2e0" stroke="#fff2e0" stroke-width="0.25">Portola Valley, CA</text>
<text x="206.3" y="455.9" font-size="16.8" textLength="40.4" lengthAdjust="spacingAndGlyphs" fill="#fff2e0" stroke="#fff2e0" stroke-width="0.25">$3.53M</text>
</g>
<g>
<rect x="68.2" y="474.2" width="109.5" height="71.5" rx="5.5" ry="5.5" fill="#e9524c"/><path d="M68.2 500.8V479.7a5.5 5.5 0 0 1 5.5 -5.5H172.2a5.5 5.5 0 0 1 5.5 5.5V500.8Z" fill="#ea605a"/>
<circle cx="97.6" cy="488.2" r="9.6" fill="#fffaf2"/>
<text transform="translate(97.6 494.4) scale(0.72 1)" font-size="17.5" text-anchor="middle" fill="#ea605a" stroke="#ea605a" stroke-width="0.2">3</text>
<text class="b" x="112.8" y="496.2" font-size="20.2" textLength="45.0" lengthAdjust="spacingAndGlyphs" fill="#fff6ea" stroke="#fff6ea" stroke-width="0.2">90402</text>
<text x="76.7" y="519.8" font-size="16.8" textLength="92.5" lengthAdjust="spacingAndGlyphs" fill="#fff2e0" stroke="#fff2e0" stroke-width="0.25">Santa Monica, CA</text>
<text x="102.7" y="537.6" font-size="16.8" textLength="40.4" lengthAdjust="spacingAndGlyphs" fill="#fff2e0" stroke="#fff2e0" stroke-width="0.25">$3.75M</text>
</g>
<g>
<rect x="185.1" y="474.0" width="103.2" height="71.7" rx="5.5" ry="5.5" fill="#e9524c"/><path d="M185.1 500.6V479.5a5.5 5.5 0 0 1 5.5 -5.5H282.8a5.5 5.5 0 0 1 5.5 5.5V500.6Z" fill="#ea605a"/>
<circle cx="211.4" cy="488.0" r="9.6" fill="#fffaf2"/>
<text transform="translate(211.4 494.2) scale(0.72 1)" font-size="17.5" text-anchor="middle" fill="#ea605a" stroke="#ea605a" stroke-width="0.2">3</text>
<text class="b" x="226.6" y="496.0" font-size="20.2" textLength="45.0" lengthAdjust="spacingAndGlyphs" fill="#fff6ea" stroke="#fff6ea" stroke-width="0.2">90210</text>
<text x="194.9" y="519.6" font-size="16.8" textLength="83.6" lengthAdjust="spacingAndGlyphs" fill="#fff2e0" stroke="#fff2e0" stroke-width="0.25">Beverly Hills, CA</text>
<text x="216.5" y="537.4" font-size="16.8" textLength="40.4" lengthAdjust="spacingAndGlyphs" fill="#fff2e0" stroke="#fff2e0" stroke-width="0.25">$3.75M</text>
</g>
<g>
<rect x="706.6" y="220.9" width="122.2" height="71.4" rx="5.5" ry="5.5" fill="#f58244"/><path d="M706.6 247.5V226.4a5.5 5.5 0 0 1 5.5 -5.5H823.3a5.5 5.5 0 0 1 5.5 5.5V247.5Z" fill="#f68b4e"/>
<circle cx="742.4" cy="234.9" r="9.6" fill="#fffaf2"/>
<text transform="translate(742.4 241.1) scale(0.72 1)" font-size="17.5" text-anchor="middle" fill="#f68b4e" stroke="#f68b4e" stroke-width="0.2">7</text>
<text class="b" x="757.6" y="242.9" font-size="20.2" textLength="45.0" lengthAdjust="spacingAndGlyphs" fill="#fff6ea" stroke="#fff6ea" stroke-width="0.2">11932</text>
<text x="716.4" y="266.5" font-size="16.8" textLength="102.7" lengthAdjust="spacingAndGlyphs" fill="#fff2e0" stroke="#fff2e0" stroke-width="0.25">Bridgehampton, NY</text>
<text x="747.5" y="284.3" font-size="16.8" textLength="40.4" lengthAdjust="spacingAndGlyphs" fill="#fff2e0" stroke="#fff2e0" stroke-width="0.25">$3.33M</text>
</g>
<g>
<rect x="722.0" y="342.5" width="103.6" height="70.8" rx="5.5" ry="5.5" fill="#d03f37"/><path d="M722.0 369.1V348.0a5.5 5.5 0 0 1 5.5 -5.5H820.1a5.5 5.5 0 0 1 5.5 5.5V369.1Z" fill="#d9504a"/>
<circle cx="748.5" cy="356.5" r="9.6" fill="#fffaf2"/>
<text transform="translate(748.5 362.7) scale(0.72 1)" font-size="17.5" text-anchor="middle" fill="#d9504a" stroke="#d9504a" stroke-width="0.2">2</text>
<text class="b" x="763.7" y="364.5" font-size="20.2" textLength="45.0" lengthAdjust="spacingAndGlyphs" fill="#fff6ea" stroke="#fff6ea" stroke-width="0.2">11962</text>
<text x="731.4" y="388.1" font-size="16.8" textLength="84.8" lengthAdjust="spacingAndGlyphs" fill="#fff2e0" stroke="#fff2e0" stroke-width="0.25">Sagaponack, NY</text>
<text x="753.6" y="405.9" font-size="16.8" textLength="40.4" lengthAdjust="spacingAndGlyphs" fill="#fff2e0" stroke="#fff2e0" stroke-width="0.25">$3.88M</text>
</g>
<g>
<rect x="1021.3" y="155.2" width="102.0" height="48.5" rx="5.5" ry="5.5" fill="#adadaf"/><path d="M1021.3 180.4V160.7a5.5 5.5 0 0 1 5.5 -5.5H1117.8a5.5 5.5 0 0 1 5.5 5.5V180.4Z" fill="#b6b6b8"/>
<text x="1029.3" y="173.0" font-size="16.6" textLength="86.0" lengthAdjust="spacingAndGlyphs" fill="#f8f8f8" stroke="#f8f8f8" stroke-width="0.25">Sonoma County</text>
<text class="b" transform="translate(1072.3 197.5) scale(0.82 1)" font-size="16.6" text-anchor="middle" fill="#fffaf4" stroke="#fffaf4" stroke-width="0.2">0</text>
</g>
<g>
<rect x="1134.0" y="141.7" width="85.1" height="48.7" rx="5.5" ry="5.5" fill="#adadaf"/><path d="M1134.0 166.9V147.2a5.5 5.5 0 0 1 5.5 -5.5H1213.6a5.5 5.5 0 0 1 5.5 5.5V166.9Z" fill="#b6b6b8"/>
<text x="1142.1" y="159.5" font-size="16.6" textLength="68.8" lengthAdjust="spacingAndGlyphs" fill="#f8f8f8" stroke="#f8f8f8" stroke-width="0.25">Napa County</text>
<text class="b" transform="translate(1176.5 184.0) scale(0.82 1)" font-size="16.6" text-anchor="middle" fill="#fffaf4" stroke="#fffaf4" stroke-width="0.2">0</text>
</g>
<g>
<rect x="1280.2" y="239.4" width="94.4" height="48.6" rx="5.5" ry="5.5" fill="#adadaf"/><path d="M1280.2 264.6V244.9a5.5 5.5 0 0 1 5.5 -5.5H1369.1a5.5 5.5 0 0 1 5.5 5.5V264.6Z" fill="#b6b6b8"/>
<text x="1289.0" y="257.2" font-size="16.6" textLength="76.8" lengthAdjust="spacingAndGlyphs" fill="#f8f8f8" stroke="#f8f8f8" stroke-width="0.25">Solano County</text>
<text class="b" transform="translate(1327.4 281.7) scale(0.82 1)" font-size="16.6" text-anchor="middle" fill="#fffaf4" stroke="#fffaf4" stroke-width="0.2">0</text>
</g>
<g>
<rect x="992.2" y="295.9" width="87.6" height="48.4" rx="5.5" ry="5.5" fill="#f2654f"/><path d="M992.2 321.1V301.4a5.5 5.5 0 0 1 5.5 -5.5H1074.3a5.5 5.5 0 0 1 5.5 5.5V321.1Z" fill="#f4745f"/>
<text x="999.3" y="313.7" font-size="16.6" textLength="73.4" lengthAdjust="spacingAndGlyphs" fill="#fff2e0" stroke="#fff2e0" stroke-width="0.25">Marin County</text>
<text class="b" transform="translate(1036.0 338.2) scale(0.82 1)" font-size="16.6" text-anchor="middle" fill="#fffaf4" stroke="#fffaf4" stroke-width="0.2">7</text>
</g>
<g>
<rect x="1001.9" y="373.3" width="128.9" height="48.7" rx="5.5" ry="5.5" fill="#d24238"/><path d="M1001.9 398.5V378.8a5.5 5.5 0 0 1 5.5 -5.5H1125.3a5.5 5.5 0 0 1 5.5 5.5V398.5Z" fill="#d9504a"/>
<text x="1010.3" y="391.1" font-size="16.6" textLength="112.0" lengthAdjust="spacingAndGlyphs" fill="#fff2e0" stroke="#fff2e0" stroke-width="0.25">San Francisco County</text>
<text class="b" transform="translate(1066.3 415.6) scale(0.82 1)" font-size="16.6" text-anchor="middle" fill="#fffaf4" stroke="#fffaf4" stroke-width="0.2">11</text>
</g>
<g>
<rect x="1039.6" y="452.1" width="115.4" height="48.7" rx="5.5" ry="5.5" fill="#d24238"/><path d="M1039.6 477.3V457.6a5.5 5.5 0 0 1 5.5 -5.5H1149.5a5.5 5.5 0 0 1 5.5 5.5V477.3Z" fill="#d9504a"/>
<text x="1048.4" y="469.9" font-size="16.6" textLength="97.8" lengthAdjust="spacingAndGlyphs" fill="#fff2e0" stroke="#fff2e0" stroke-width="0.25">San Mateo County</text>
<text class="b" transform="translate(1097.3 494.4) scale(0.82 1)" font-size="16.6" text-anchor="middle" fill="#fffaf4" stroke="#fffaf4" stroke-width="0.2">11</text>
</g>
<g>
<rect x="1271.3" y="338.1" width="124.3" height="48.7" rx="5.5" ry="5.5" fill="#f58243"/><path d="M1271.3 363.3V343.6a5.5 5.5 0 0 1 5.5 -5.5H1390.1a5.5 5.5 0 0 1 5.5 5.5V363.3Z" fill="#f68d52"/>
<text x="1279.3" y="355.9" font-size="16.6" textLength="108.2" lengthAdjust="spacingAndGlyphs" fill="#fff2e0" stroke="#fff2e0" stroke-width="0.25">Contra Costa County</text>
<text class="b" transform="translate(1333.4 380.4) scale(0.82 1)" font-size="16.6" text-anchor="middle" fill="#fffaf4" stroke="#fffaf4" stroke-width="0.2">4</text>
</g>
<g>
<rect x="1299.7" y="407.3" width="105.3" height="48.9" rx="5.5" ry="5.5" fill="#f99d43"/><path d="M1299.7 432.5V412.8a5.5 5.5 0 0 1 5.5 -5.5H1399.5a5.5 5.5 0 0 1 5.5 5.5V432.5Z" fill="#faa651"/>
<text x="1308.1" y="425.1" font-size="16.6" textLength="88.5" lengthAdjust="spacingAndGlyphs" fill="#fff2e0" stroke="#fff2e0" stroke-width="0.25">Alameda County</text>
<text class="b" transform="translate(1352.3 449.6) scale(0.82 1)" font-size="16.6" text-anchor="middle" fill="#fffaf4" stroke="#fffaf4" stroke-width="0.2">2</text>
</g>
<g>
<rect x="1247.4" y="549.9" width="118.0" height="48.6" rx="5.5" ry="5.5" fill="#9a1f1b"/><path d="M1247.4 575.1V555.4a5.5 5.5 0 0 1 5.5 -5.5H1359.9a5.5 5.5 0 0 1 5.5 5.5V575.1Z" fill="#a92e2c"/>
<text x="1255.2" y="567.7" font-size="16.6" textLength="102.3" lengthAdjust="spacingAndGlyphs" fill="#fff2e0" stroke="#fff2e0" stroke-width="0.25">Santa Clara County</text>
<text class="b" transform="translate(1306.4 592.2) scale(0.82 1)" font-size="16.6" text-anchor="middle" fill="#fffaf4" stroke="#fffaf4" stroke-width="0.2">15</text>
</g>
<linearGradient id="gb1" gradientUnits="userSpaceOnUse" x1="85.8" y1="28.3" x2="47.1" y2="98.7"><stop offset="0" stop-color="#c6262a"/><stop offset="0.45" stop-color="#d8383d"/><stop offset="1" stop-color="#ea5a60"/></linearGradient><g clip-path="url(#b1)"><rect x="33.0" y="28.299999999999997" width="70.4" height="70.4" fill="url(#gb1)"/><polygon points="62.9,28.3 87.6,28.3 75.2,47.7" fill="#c01f25" fill-opacity="0.55"/><polygon points="33.0,45.9 62.9,28.3 75.2,47.7 52.4,60.0" fill="#cf2e33" fill-opacity="0.5"/><polygon points="87.6,28.3 103.4,51.2 84.0,60.0 75.2,47.7" fill="#d33a3c" fill-opacity="0.5"/><polygon points="103.4,51.2 103.4,81.1 85.8,75.8 84.0,60.0" fill="#d1343a" fill-opacity="0.5"/><polygon points="33.0,45.9 52.4,60.0 47.1,77.6 33.0,74.1" fill="#e4494f" fill-opacity="0.5"/><polygon points="52.4,60.0 75.2,47.7 84.0,60.0 70.0,74.1" fill="#e04448" fill-opacity="0.45"/><polygon points="47.1,77.6 70.0,74.1 61.2,91.7 41.8,89.9" fill="#f27078" fill-opacity="0.6"/><polygon points="33.0,74.1 47.1,77.6 41.8,89.9 33.0,91.7" fill="#ee6068" fill-opacity="0.6"/><polygon points="70.0,74.1 85.8,75.8 80.5,98.7 61.2,91.7" fill="#dd4046" fill-opacity="0.5"/><polygon points="85.8,75.8 103.4,81.1 103.4,98.7 80.5,98.7" fill="#d23238" fill-opacity="0.5"/><polygon points="61.2,91.7 80.5,98.7 41.8,98.7 41.8,89.9" fill="#e5525a" fill-opacity="0.5"/></g><text x="39.5" y="77.0" font-size="37" textLength="57.4" lengthAdjust="spacingAndGlyphs" fill="#fff" stroke="#fff" stroke-width="0.3">2020</text>
<linearGradient id="gb2" gradientUnits="userSpaceOnUse" x1="979.6" y1="23.2" x2="945.9" y2="84.6"><stop offset="0" stop-color="#c6262a"/><stop offset="0.45" stop-color="#d8383d"/><stop offset="1" stop-color="#ea5a60"/></linearGradient><g clip-path="url(#b2)"><rect x="933.5999999999999" y="23.2" width="61.4" height="61.4" fill="url(#gb2)"/><polygon points="959.7,23.2 981.2,23.2 970.4,40.1" fill="#c01f25" fill-opacity="0.55"/><polygon points="933.6,38.5 959.7,23.2 970.4,40.1 950.5,50.8" fill="#cf2e33" fill-opacity="0.5"/><polygon points="981.2,23.2 995.0,43.2 978.1,50.8 970.4,40.1" fill="#d33a3c" fill-opacity="0.5"/><polygon points="995.0,43.2 995.0,69.2 979.6,64.6 978.1,50.8" fill="#d1343a" fill-opacity="0.5"/><polygon points="933.6,38.5 950.5,50.8 945.9,66.2 933.6,63.1" fill="#e4494f" fill-opacity="0.5"/><polygon points="950.5,50.8 970.4,40.1 978.1,50.8 965.8,63.1" fill="#e04448" fill-opacity="0.45"/><polygon points="945.9,66.2 965.8,63.1 958.2,78.5 941.3,76.9" fill="#f27078" fill-opacity="0.6"/><polygon points="933.6,63.1 945.9,66.2 941.3,76.9 933.6,78.5" fill="#ee6068" fill-opacity="0.6"/><polygon points="965.8,63.1 979.6,64.6 975.0,84.6 958.2,78.5" fill="#dd4046" fill-opacity="0.5"/><polygon points="979.6,64.6 995.0,69.2 995.0,84.6 975.0,84.6" fill="#d23238" fill-opacity="0.5"/><polygon points="958.2,78.5 975.0,84.6 941.3,84.6 941.3,76.9" fill="#e5525a" fill-opacity="0.5"/></g><text x="939.2" y="65.7" font-size="32.3" textLength="50.2" lengthAdjust="spacingAndGlyphs" fill="#fff" stroke="#fff" stroke-width="0.3">2020</text>
<text id="ta" class="b" x="119.8" y="55.8" font-size="25" fill="#14385a" stroke="#14385a" stroke-width="0.3" textLength="563.0" lengthAdjust="spacingAndGlyphs">Atherton &amp; Sagaponack Remain Most Expensive</text>
<text id="tb" class="b" x="120.3" y="87.6" font-size="25" fill="#14385a" stroke="#14385a" stroke-width="0.3" textLength="410.6" lengthAdjust="spacingAndGlyphs">Zip Codes for 3rd Consecutive Year</text>
<text id="tc" class="b" x="1010.6" y="46.8" font-size="21.7" fill="#14385a" stroke="#14385a" stroke-width="0.25" textLength="367.0" lengthAdjust="spacingAndGlyphs">50 Bay Area Zip Codes Rank Among</text>
<text id="td" class="b" x="1012" y="74.8" font-size="21.7" fill="#14385a" stroke="#14385a" stroke-width="0.25" textLength="279.3" lengthAdjust="spacingAndGlyphs">100 Most Expensive in U.S.</text>
<g transform="translate(356.9 597.3) scale(1.0)"><ellipse cx="20" cy="15.8" rx="19.6" ry="2.1" fill="#8db4cb" stroke="#4d7592" stroke-width="0.8"/><path d="M15.6 0.2 C19 2.4 24.5 4.8 29.2 8.3 C33 11.2 37 14.2 45.6 15.5 C40 16.8 30 17.3 20.6 17.2 C20.3 11 18.4 5.2 15.6 0.2Z" fill="#1b3f5f"/><path d="M21 19.400000000000002 Q28.5 17.400000000000002 36 18.0" fill="none" stroke="#1b3f5f" stroke-width="1.25"/><path d="M20.5 21.400000000000002 Q27.0 19.400000000000002 33.5 20.0" fill="none" stroke="#1b3f5f" stroke-width="1.25"/><path d="M20 23.400000000000002 Q25.5 21.400000000000002 31 22.0" fill="none" stroke="#1b3f5f" stroke-width="1.25"/><path d="M19.2 25.400000000000002 Q23.9 23.400000000000002 28.6 24.0" fill="none" stroke="#1b3f5f" stroke-width="1.25"/><path d="M18.2 27.400000000000002 Q22.2 25.400000000000002 26.2 26.0" fill="none" stroke="#1b3f5f" stroke-width="1.25"/><path d="M17.2 29.400000000000002 Q20.5 27.400000000000002 23.8 28.0" fill="none" stroke="#1b3f5f" stroke-width="1.25"/><path d="M16 31.400000000000002 Q18.7 29.400000000000002 21.4 30.0" fill="none" stroke="#1b3f5f" stroke-width="1.25"/><path d="M14.8 33.199999999999996 Q16.8 31.2 18.8 31.799999999999997" fill="none" stroke="#1b3f5f" stroke-width="1.25"/><text x="51.6" y="22.3" font-size="19.6" fill="#1b3f5f" textLength="80" lengthAdjust="spacingAndGlyphs">Property</text><text class="b" x="131.8" y="22.3" font-size="19.6" fill="#1b3f5f" textLength="54.8" lengthAdjust="spacingAndGlyphs">Shark</text></g>
<g transform="translate(933.8 604.6) scale(0.889)"><ellipse cx="20" cy="15.8" rx="19.6" ry="2.1" fill="#8db4cb" stroke="#4d7592" stroke-width="0.8"/><path d="M15.6 0.2 C19 2.4 24.5 4.8 29.2 8.3 C33 11.2 37 14.2 45.6 15.5 C40 16.8 30 17.3 20.6 17.2 C20.3 11 18.4 5.2 15.6 0.2Z" fill="#1b3f5f"/><path d="M21 19.400000000000002 Q28.5 17.400000000000002 36 18.0" fill="none" stroke="#1b3f5f" stroke-width="1.25"/><path d="M20.5 21.400000000000002 Q27.0 19.400000000000002 33.5 20.0" fill="none" stroke="#1b3f5f" stroke-width="1.25"/><path d="M20 23.400000000000002 Q25.5 21.400000000000002 31 22.0" fill="none" stroke="#1b3f5f" stroke-width="1.25"/><path d="M19.2 25.400000000000002 Q23.9 23.400000000000002 28.6 24.0" fill="none" stroke="#1b3f5f" stroke-width="1.25"/><path d="M18.2 27.400000000000002 Q22.2 25.400000000000002 26.2 26.0" fill="none" stroke="#1b3f5f" stroke-width="1.25"/><path d="M17.2 29.400000000000002 Q20.5 27.400000000000002 23.8 28.0" fill="none" stroke="#1b3f5f" stroke-width="1.25"/><path d="M16 31.400000000000002 Q18.7 29.400000000000002 21.4 30.0" fill="none" stroke="#1b3f5f" stroke-width="1.25"/><path d="M14.8 33.199999999999996 Q16.8 31.2 18.8 31.799999999999997" fill="none" stroke="#1b3f5f" stroke-width="1.25"/><text x="51.6" y="22.3" font-size="19.6" fill="#1b3f5f" textLength="80" lengthAdjust="spacingAndGlyphs">Property</text><text class="b" x="131.8" y="22.3" font-size="19.6" fill="#1b3f5f" textLength="54.8" lengthAdjust="spacingAndGlyphs">Shark</text></g>
</svg></body></html>
